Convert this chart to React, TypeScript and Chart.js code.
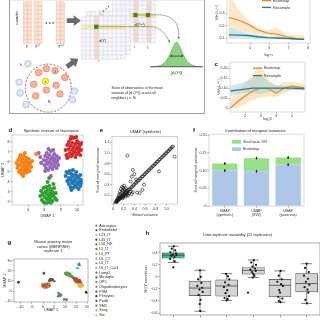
import React, { useEffect, useRef } from "react";
import { Chart, registerables } from "chart.js";

Chart.register(...registerables);

const FONT = "'Liberation Sans', Arial, sans-serif";
Chart.defaults.font.family = FONT;
Chart.defaults.color = "#333";

const ORANGE = "#dc8a2c";
const TEAL = "#2c7d83";

// ---------- a: schematic (page units) ----------
const nbrInside = [[35, 70], [43, 66], [52, 68], [30, 82], [62, 75], [53, 83], [32, 94], [43, 88], [57, 92]];
const nbrCentre = [[42, 79]];
const nbrOutside = [[24, 61], [15, 80], [16, 91], [22, 103], [72, 89], [70, 98]];
const bellX = [150, 156, 160, 164, 167, 170, 173, 175.5, 177, 178.5, 181, 184, 187, 190, 194, 198, 204];
const bellY = [64, 63.7, 62.8, 60.5, 57, 51.5, 44.5, 40, 38.5, 40, 44.5, 51.5, 57, 60.5, 62.8, 63.7, 64];

// ---------- b: variance vs log n ----------
const logN = [3.9, 4.4, 4.9, 5.4, 5.9, 6.4, 6.9, 7.4, 7.8];
const bBootMean = [0.265, 0.245, 0.21, 0.165, 0.14, 0.13, 0.11, 0.095, 0.09];
const bBootHigh = [0.45, 0.33, 0.24, 0.18, 0.165, 0.185, 0.125, 0.125, 0.12];
const bBootLow = [0.17, 0.16, 0.145, 0.13, 0.12, 0.11, 0.095, 0.085, 0.08];
const bResMean = [0.125, 0.123, 0.12, 0.11, 0.103, 0.1, 0.097, 0.092, 0.09];
const bResHigh = [0.18, 0.16, 0.14, 0.125, 0.115, 0.11, 0.103, 0.097, 0.095];
const bResLow = [0.095, 0.095, 0.093, 0.09, 0.09, 0.088, 0.087, 0.085, 0.085];
const bTicksX = [5, 6, 7, 8];
const bTicksY = [0.1, 0.2, 0.3];

// ---------- c: variance vs log beta ----------
const logBeta = [1.05, 1.5, 2, 2.5, 3, 3.5, 4, 4.5, 5, 5.5, 5.8];
const cBootMean = [0.0, 0.03, 0.06, 0.085, 0.1, 0.095, 0.075, 0.1, 0.11, 0.105, 0.1];
const cBootHigh = [0.04, 0.08, 0.12, 0.17, 0.215, 0.14, 0.11, 0.13, 0.13, 0.125, 0.12];
const cBootLow = [0.0, 0.0, 0.02, 0.04, 0.05, 0.06, 0.055, 0.075, 0.09, 0.09, 0.085];
const cResMean = [0.085, 0.09, 0.095, 0.1, 0.1, 0.1, 0.1, 0.1, 0.1, 0.098, 0.098];
const cResHigh = [0.11, 0.12, 0.13, 0.15, 0.17, 0.13, 0.115, 0.11, 0.11, 0.108, 0.105];
const cResLow = [0.06, 0.07, 0.075, 0.075, 0.07, 0.08, 0.085, 0.09, 0.09, 0.09, 0.09];
const cTicksX = [2, 3, 4, 5];
const cTicksY = [0, 0.05, 0.1, 0.15, 0.2];
const cTickLabelsY = ["0", "0.05", "0.10", "0.15", "0.20"];

// ---------- d: synthetic mixture of Gaussians ----------
const dOrange = [[2.6, 5.9], [2.7, 5.4], [2.8, 6.2], [2.9, 5.0], [3.0, 5.7], [3.0, 6.5], [3.1, 5.2], [3.2, 6.0], [3.2, 4.8], [3.3, 5.5], [3.3, 6.3], [3.4, 5.9], [3.5, 5.1], [3.5, 6.6], [3.6, 5.6], [3.6, 4.9], [3.7, 6.1], [3.7, 5.3], [3.8, 5.8], [3.8, 6.4], [3.9, 5.0], [3.9, 5.5], [4.0, 6.0], [4.0, 5.3], [4.1, 5.7], [4.1, 6.3], [4.2, 5.1], [4.3, 5.9], [4.4, 5.5], [3.4, 4.6], [2.8, 5.7], [3.1, 6.7], [4.5, 6.1], [3.6, 6.9], [5.0, 6.8]];
const dPurple = [[5.9, 6.2], [6.0, 5.7], [6.1, 6.6], [6.2, 5.4], [6.2, 6.1], [6.3, 6.9], [6.4, 5.8], [6.4, 6.4], [6.5, 5.2], [6.6, 6.0], [6.6, 6.7], [6.7, 5.5], [6.8, 6.3], [6.8, 7.1], [6.9, 5.8], [7.0, 6.5], [7.0, 5.3], [7.1, 6.1], [7.2, 6.8], [7.2, 5.6], [7.3, 6.3], [7.4, 5.9], [7.5, 6.6], [7.5, 5.4], [7.6, 6.1], [7.7, 5.7], [7.8, 6.4], [6.5, 7.3], [7.1, 7.2], [6.1, 5.1], [5.5, 6.5], [5.3, 6.9], [5.6, 5.9], [6.8, 4.6]];
const dRed = [[8.6, 7.2], [8.7, 6.7], [8.8, 7.7], [8.9, 6.5], [9.0, 7.3], [9.0, 8.0], [9.1, 6.9], [9.2, 7.6], [9.2, 8.3], [9.3, 6.6], [9.4, 7.2], [9.4, 7.9], [9.5, 6.8], [9.6, 7.5], [9.6, 8.4], [9.7, 7.0], [9.8, 7.8], [9.8, 6.5], [9.9, 7.3], [10.0, 8.1], [10.0, 6.8], [10.1, 7.5], [10.2, 7.0], [10.2, 7.9], [10.3, 7.3], [10.4, 7.7], [10.4, 6.7], [10.5, 7.2], [9.3, 8.6], [9.9, 8.5], [8.8, 6.4], [10.6, 7.9]];
const dBlue = [[8.6, 4.6], [8.8, 4.1], [8.9, 4.9], [9.0, 3.8], [9.0, 4.4], [9.1, 5.1], [9.2, 3.5], [9.2, 4.2], [9.3, 4.8], [9.4, 3.9], [9.4, 4.5], [9.5, 5.2], [9.5, 3.4], [9.6, 4.1], [9.7, 4.7], [9.7, 3.7], [9.8, 4.3], [9.9, 5.0], [9.9, 3.5], [10.0, 4.0], [10.0, 4.6], [10.1, 3.8], [10.2, 4.4], [10.2, 3.3], [10.3, 4.0], [10.4, 4.7], [10.4, 3.6], [10.5, 4.2], [9.3, 3.2], [8.7, 5.0], [10.6, 3.9]];
const dGreen = [[5.5, 2.6], [5.6, 3.1], [5.7, 2.2], [5.8, 2.8], [5.9, 3.4], [5.9, 2.0], [6.0, 2.5], [6.1, 3.0], [6.1, 1.9], [6.2, 3.5], [6.3, 2.3], [6.3, 2.8], [6.4, 3.2], [6.5, 2.0], [6.5, 2.6], [6.6, 3.6], [6.7, 2.3], [6.7, 2.9], [6.8, 1.9], [6.8, 3.3], [6.9, 2.6], [7.0, 3.0], [7.0, 2.1], [7.1, 2.7], [7.2, 3.4], [7.3, 2.4], [7.4, 2.9], [7.5, 2.2], [6.4, 4.0], [6.6, 4.4], [6.2, 1.8], [7.1, 3.8]];
const dTicksX = [4, 6, 8, 10];
const dTicksY = [2, 3, 4, 5, 6, 7, 8];

// ---------- e: global vs summed marginal variance ----------
const eDiagonal = [[0.30, 0.31], [0.32, 0.32], [0.34, 0.35], [0.36, 0.36], [0.38, 0.39], [0.40, 0.40], [0.42, 0.43], [0.44, 0.44], [0.46, 0.47], [0.48, 0.48], [0.50, 0.51], [0.52, 0.52], [0.54, 0.55], [0.56, 0.56], [0.58, 0.59], [0.60, 0.60], [0.62, 0.63], [0.64, 0.64], [0.66, 0.67], [0.68, 0.68], [0.70, 0.71], [0.72, 0.72], [0.74, 0.75], [0.76, 0.76], [0.78, 0.79], [0.80, 0.80], [0.82, 0.83], [0.84, 0.84], [0.86, 0.87], [0.88, 0.88], [0.90, 0.91], [0.92, 0.92], [0.94, 0.95], [0.96, 0.96], [0.98, 0.99], [1.00, 1.00], [1.02, 1.03], [1.04, 1.04], [1.06, 1.07], [1.08, 1.08], [1.10, 1.11], [1.12, 1.12]];
const eCluster = [[0.04, 0.05], [0.05, 0.06], [0.06, 0.07], [0.07, 0.07], [0.08, 0.09], [0.09, 0.10], [0.10, 0.11], [0.11, 0.12], [0.12, 0.14], [0.13, 0.13], [0.14, 0.16], [0.15, 0.15], [0.16, 0.18], [0.17, 0.17], [0.18, 0.20], [0.19, 0.19], [0.20, 0.22], [0.21, 0.21], [0.22, 0.24], [0.23, 0.23], [0.24, 0.26], [0.25, 0.25], [0.26, 0.28], [0.27, 0.27], [0.28, 0.30], [0.10, 0.15], [0.12, 0.18], [0.14, 0.22], [0.16, 0.25], [0.18, 0.28], [0.20, 0.31], [0.13, 0.27], [0.15, 0.32], [0.17, 0.36], [0.19, 0.34], [0.21, 0.38], [0.22, 0.30], [0.24, 0.33], [0.11, 0.21], [0.09, 0.14], [0.08, 0.12], [0.06, 0.09], [0.23, 0.18], [0.25, 0.20], [0.27, 0.22], [0.30, 0.24], [0.33, 0.27], [0.28, 0.19], [0.35, 0.22], [0.18, 0.14], [0.20, 0.16], [0.37, 0.26]];
const eOutliers = [[0.27, 0.95], [0.86, 0.65], [1.15, 0.93], [0.37, 0.68], [0.40, 0.60], [0.43, 0.50], [0.35, 0.55], [0.33, 0.46], [0.55, 0.30], [0.50, 0.24], [0.45, 0.25], [0.58, 0.40]];
const eTicksX = [0, 0.2, 0.4, 0.6, 0.8, 1.0];
const eTicksY = [0.2, 0.4, 0.6, 0.8, 1.0, 1.2];

// ---------- f: contribution of marginal variances ----------
const fCategories = [["UMAP", "(synthetic)"], ["UMAP", "(SVZ)"], ["UMAP", "(pancreas)"]];
const fBootstrap = [0.1, 0.098, 0.117];
const fStochastic = [0.02, 0.037, 0.02];
const fTicksY = [0, 0.05, 0.1, 0.15, 0.2];
const fTickLabelsY = ["0", "0.05", "0.10", "0.15", "0.20"];

// ---------- g: MERFISH UMAP ----------
const gNames = ["Astrocytes", "Endothelial", "L23_IT", "L45_IT", "L56_NP", "L5_IT", "L5_PT", "L6_CT", "L6_IT", "L6_IT_Car3", "Lamp5", "Microglia", "OPC", "Oligodendrocytes", "PVM", "Pericytes", "Pvalb", "SMC", "Sncg", "Sst"];
const gColors = ["#5f7f8a", "#7a3b2a", "#d8c03a", "#3b3b3b", "#8b5a3c", "#b5462e", "#d98c5a", "#dd8a3c", "#c0703a", "#5fc0d0", "#6d6d6d", "#2f6a2f", "#3c9c48", "#55a043", "#444444", "#333333", "#555555", "#8a5fa0", "#b8b040", "#bcd04a"];
const gPoints = [
  [[7, -2], [7.5, -3], [8, -3.5], [7.2, -4.5], [7.8, -5], [8.3, -4], [6.8, -5.3]],
  [[-11, 9], [-11.3, 8.5]],
  [[16, 6.5], [16.6, 5.8], [17.2, 5.2], [17.8, 4.6], [16.4, 4.4], [17, 3.8], [17.6, 6.4], [18.2, 5.6], [16.8, 6.8]],
  [],
  [[0.3, 5], [1.5, 4.3], [3, 5.2], [0.6, 6.3], [1.8, 6.6]],
  [[14, 12.5], [14.6, 12], [15.2, 11.6], [15.8, 11], [16.4, 10.3], [17, 9.6], [14.3, 11], [15, 10.4], [15.6, 9.6], [16.2, 8.8], [16.9, 8.2], [17.4, 7.5], [14.8, 12.8], [15.5, 12.2], [16.6, 11]],
  [],
  [[-0.5, 5], [0, 4], [0.5, 3.5], [1.2, 3.2], [2, 3.5], [2.6, 4.2], [0, 6], [0.8, 7], [1.5, 7.5], [2.2, 7.8], [3, 7.2], [-0.3, 7.2], [1, 5.5], [2.4, 5.6]],
  [[15.2, 8.8], [15.9, 8], [16.5, 7.2], [14.6, 9.6]],
  [[15.4, 23], [16, 22.6]],
  [[5.2, 9.8]],
  [[0.5, 18], [0.3, 17.5]],
  [[16.2, 26.5], [16.6, 25.8], [16.4, 27.2]],
  [[10, 18], [10.5, 17.2], [11, 17.8], [11.4, 16.6], [11.8, 17.3], [12.2, 16], [12.6, 15.6], [13, 15], [13.4, 14.4], [13.8, 14], [10.3, 16.4], [11.1, 15.8], [12, 15], [12.8, 14.2], [13.5, 13.3], [10.8, 18.4], [11.6, 18], [12.4, 17]],
  [],
  [[19.5, -1], [19.8, -1.6]],
  [[2.8, 10.5], [3.2, 11.5], [3.6, 12], [4.1, 11.8], [4.5, 11.2], [3.0, 10], [3.9, 10.8]],
  [[9.5, -8.5], [10.2, -8.3], [10.8, -8.8]],
  [],
  [[4.8, 10.2]],
];
const gTicksX = [-10, -5, 0, 5, 10, 15, 20];
const gTicksY = [-10, 0, 10, 20, 30];

// ---------- h: inter-replicate variability ----------
const hQ1 = [0.31, -0.31, -0.32, 0.045, -0.33, -0.25];
const hQ3 = [0.40, -0.07, -0.05, 0.165, -0.04, 0.055];
const hMedian = [0.36, -0.185, -0.15, 0.11, -0.14, -0.11];
const hWhiskLow = [0.24, -0.57, -0.39, -0.01, -0.42, -0.44];
const hWhiskHigh = [0.51, 0.11, 0.055, 0.28, 0.10, 0.22];
const hValues = [
  [0.51, 0.47, 0.44, 0.41, 0.39, 0.37, 0.36, 0.35, 0.33, 0.30, 0.26, 0.16],
  [0.11, 0.0, -0.04, -0.1, -0.15, -0.18, -0.21, -0.25, -0.3, -0.38, -0.45, -0.57],
  [0.05, 0.01, -0.04, -0.09, -0.13, -0.17, -0.22, -0.27, -0.32, -0.35, -0.37, -0.39],
  [0.28, 0.24, 0.2, 0.17, 0.14, 0.12, 0.1, 0.08, 0.05, 0.02, -0.01, -0.26],
  [0.1, 0.02, -0.04, -0.08, -0.12, -0.15, -0.22, -0.26, -0.33, -0.36, -0.4, -0.42],
  [0.22, 0.15, 0.08, 0.02, -0.03, -0.08, -0.13, -0.17, -0.21, -0.26, -0.38, -0.44],
];
const hJitter = [
  [0.02, -0.06, 0.07, -0.11, 0.1, -0.02, 0.12, -0.08, 0.04, -0.12, 0.05, 0.0],
  [0.0, 0.03, -0.07, 0.05, -0.1, 0.08, -0.02, 0.1, -0.05, 0.02, -0.01, 0.01],
  [-0.02, 0.05, 0.1, -0.06, 0.07, -0.1, 0.02, -0.04, 0.09, -0.08, 0.04, 0.0],
  [0.02, -0.08, 0.1, -0.03, 0.06, -0.11, 0.09, -0.05, 0.0, 0.04, -0.02, -0.2],
  [0.02, -0.05, 0.07, -0.1, 0.04, 0.11, -0.03, 0.0, -0.07, 0.09, -0.04, 0.02],
  [0.0, -0.06, 0.08, -0.1, 0.05, -0.03, 0.1, -0.08, 0.03, 0.06, -0.05, 0.01],
];
const hTicksY = [-0.6, -0.4, -0.2, 0, 0.2, 0.4];
const hTickLabelsY = ["−0.6", "−0.4", "−0.2", "0", "0.2", "0.4"];

// ---------- free text ----------
const panelLetters: [string, number, number][] = [["c", 216, 61], ["d", 4, 129], ["e", 98, 129], ["f", 194, 129], ["g", 3, 245], ["h", 145, 235]];
const panelTitles: [string, number, number][] = [
  ["Synthetic mixture of Gaussians", 48, 130],
  ["UMAP (synthetic)", 145, 131],
  ["Contribution of marginal variances", 258, 130],
  ["Mouse primary motor", 50, 244],
  ["cortex (MERFISH)", 50, 249],
  ["replicate 1", 50, 254],
  ["Inter-replicate variability (12 replicates)", 240, 237],
];
const sketchLabels: [string, number, number][] = [
  ["y", 23, 42.7], ["y⁽¹⁾", 34, 42.7], ["y⁽ᴮ⁾", 58, 42.7],
  ["d(Y)", 101, 37], ["d(Y⁽ᴮ⁾)", 139, 21], ["i", 97, 58], ["i", 134, 43.5], ["j", 147.5, 43.5],
  ["{dᵢⱼ(Yᵇ)}", 177, 70], ["i", 42, 79.3], ["j", 52, 68.3], ["Nᵢ", 46, 100], ["k", 17, 62],
];
const sketchNote = ["Score of observation i is the mean", "variance of {dᵢⱼ(Yᵇ)} across all", "neighbors j ∈ Nᵢ"];
const VAR_LABEL = "Vâr(dᵢⱼ⁽ᵇ⁾)";

// ---------- helpers ----------
const tf = (size: number, weight: string = "normal") => ({ size, family: FONT, weight });
const pts = (list: number[][]) => list.map(([x, y]) => ({ x, y }));
const zip = (xs: number[], ys: number[]) => xs.map((x, i) => ({ x, y: ys[i] }));

function axis(s: any): any {
  const horiz = s.pos === "bottom";
  return {
    type: "linear",
    position: s.pos,
    min: s.min,
    max: s.max,
    offset: false,
    stacked: !!s.stacked,
    afterFit: (sc: any) => {
      if (horiz) sc.height = s.size;
      else sc.width = s.size;
    },
    afterBuildTicks: (sc: any) => {
      sc.ticks = s.ticks.map((v: number) => ({ value: v }));
    },
    ticks: {
      font: tf(3.6),
      color: "#333",
      padding: s.pad ?? 1,
      autoSkip: false,
      maxRotation: 0,
      minRotation: 0,
      callback: (v: number, i: number) => (s.labels ? s.labels[i] : String(v)),
    },
    grid: { display: true, drawOnChartArea: false, drawTicks: true, tickLength: s.tickLen ?? 1.5, color: "#444", lineWidth: 0.5, offset: false },
    border: { display: false },
    title: { display: !!s.title, text: s.title ?? "", font: tf(3.8), color: "#333", padding: 0 },
  };
}

function base(scales: any, padding: any = { top: 3, right: 4, left: 0, bottom: 0 }) {
  return {
    responsive: false,
    maintainAspectRatio: false,
    animation: false,
    devicePixelRatio: 1,
    events: [],
    layout: { padding },
    plugins: { legend: { display: false }, tooltip: { enabled: false }, title: { display: false } },
    scales,
  };
}

function framePlugin(color: string, width = 0.7) {
  return {
    id: "frame",
    afterDraw(chart: any) {
      const { left, top, right, bottom } = chart.chartArea;
      const ctx = chart.ctx;
      ctx.save();
      ctx.strokeStyle = color;
      ctx.lineWidth = width;
      ctx.strokeRect(left, top, right - left, bottom - top);
      ctx.restore();
    },
  };
}

function keysPlugin(items: { label: string; color: string; kind: string }[], dx: number, dy: number, gap: number) {
  return {
    id: "keys",
    afterDraw(chart: any) {
      const ctx = chart.ctx;
      const { left, top } = chart.chartArea;
      ctx.save();
      ctx.font = `3.8px ${FONT}`;
      ctx.textBaseline = "middle";
      ctx.textAlign = "left";
      items.forEach((it, i) => {
        const x = left + dx;
        const y = top + dy + i * gap;
        if (it.kind === "line") {
          ctx.strokeStyle = it.color;
          ctx.lineWidth = 1.3;
          ctx.beginPath();
          ctx.moveTo(x, y);
          ctx.lineTo(x + 9, y);
          ctx.stroke();
        } else {
          ctx.fillStyle = it.color;
          ctx.fillRect(x, y - 1.8, 9, 3.6);
        }
        ctx.fillStyle = "#333";
        ctx.fillText(it.label, x + 11, y);
      });
      ctx.restore();
    },
  };
}

function bandDatasets(xs: number[], bm: number[], bh: number[], bl: number[], rm: number[], rh: number[], rl: number[]) {
  const none = "rgba(0,0,0,0)";
  return [
    { data: zip(xs, bh), fill: "+1", backgroundColor: "rgba(252,196,125,0.42)", borderColor: none, borderWidth: 0, pointRadius: 0, order: 3 },
    { data: zip(xs, bl), fill: false, borderColor: none, borderWidth: 0, pointRadius: 0, order: 3 },
    { data: zip(xs, rh), fill: "+1", backgroundColor: "rgba(135,200,218,0.42)", borderColor: none, borderWidth: 0, pointRadius: 0, order: 2 },
    { data: zip(xs, rl), fill: false, borderColor: none, borderWidth: 0, pointRadius: 0, order: 2 },
    { data: zip(xs, bm), fill: false, borderColor: ORANGE, borderWidth: 1.1, pointRadius: 0, order: 1 },
    { data: zip(xs, rm), fill: false, borderColor: TEAL, borderWidth: 1.4, pointRadius: 0, order: 0 },
  ];
}

const legendBR = [
  { label: "Bootstrap", color: ORANGE, kind: "line" },
  { label: "Resample", color: TEAL, kind: "line" },
];

// ---------- sketch drawing ----------
function drawGrid(ctx: any, X: any, Y: any, x0: number, y0: number, cols: number, rows: number, cw: number, ch: number, fill: string, line: string, hiCols: number[], hiRows: number[], colColor: string, rowColor: string) {
  const px = X(x0), py = Y(y0), w = cols * cw, h = rows * ch;
  ctx.fillStyle = fill;
  ctx.fillRect(px, py, w, h);
  hiCols.forEach((c) => { ctx.fillStyle = colColor; ctx.fillRect(px + c * cw, py, cw, h); });
  hiRows.forEach((r) => { ctx.fillStyle = rowColor; ctx.fillRect(px, py + r * ch, w, ch); });
  ctx.strokeStyle = line;
  ctx.lineWidth = 0.4;
  ctx.beginPath();
  for (let c = 0; c <= cols; c++) { ctx.moveTo(px + c * cw, py); ctx.lineTo(px + c * cw, py + h); }
  for (let r = 0; r <= rows; r++) { ctx.moveTo(px, py + r * ch); ctx.lineTo(px + w, py + r * ch); }
  ctx.stroke();
}

function blockArrow(ctx: any, x: number, y: number, angle: number) {
  ctx.save();
  ctx.translate(x, y);
  ctx.rotate(angle);
  ctx.fillStyle = "#6b6b6b";
  ctx.beginPath();
  ctx.moveTo(0, -2.4);
  ctx.lineTo(7, -2.4);
  ctx.lineTo(7, -5.4);
  ctx.lineTo(14, 0);
  ctx.lineTo(7, 5.4);
  ctx.lineTo(7, 2.4);
  ctx.lineTo(0, 2.4);
  ctx.closePath();
  ctx.fill();
  ctx.restore();
}

function arrowHead(ctx: any, x: number, y: number, angle: number, size = 2) {
  ctx.save();
  ctx.translate(x, y);
  ctx.rotate(angle);
  ctx.beginPath();
  ctx.moveTo(0, 0);
  ctx.lineTo(-size, -size * 0.55);
  ctx.lineTo(-size, size * 0.55);
  ctx.closePath();
  ctx.fill();
  ctx.restore();
}

const sketchPlugin = {
  id: "sketch",
  beforeDatasetsDraw(chart: any) {
    const ctx = chart.ctx;
    const X = (v: number) => chart.scales.x.getPixelForValue(v);
    const Y = (v: number) => chart.scales.y.getPixelForValue(v);
    ctx.save();
    // panel frame
    ctx.strokeStyle = "#8a8a8a";
    ctx.lineWidth = 0.8;
    ctx.strokeRect(X(5), Y(-5), X(206) - X(5), Y(112) - Y(-5));
    // sample columns
    [19.5, 30.5, 53.5].forEach((x) => drawGrid(ctx, X, Y, x, -3, 2, 10, 3.9, 4.2, "#fde4d6", "#eea888", [], [], "", ""));
    ctx.fillStyle = "#222";
    [43, 46.5, 50].forEach((x) => { ctx.beginPath(); ctx.arc(X(x), Y(19), 0.8, 0, Math.PI * 2); ctx.fill(); });
    // stacked distance matrices
    drawGrid(ctx, X, Y, 111, -4, 10, 10, 4.3, 4.2, "#f6f7fb", "#c9cde0", [5, 8], [3], "#fbd9c5", "#fbeaa8");
    drawGrid(ctx, X, Y, 84, 7, 10, 10, 4.4, 4.3, "#f6f7fb", "#c9cde0", [3], [], "#fbd9c5", "#fbeaa8");
    drawGrid(ctx, X, Y, 79, 12, 10, 10, 4.4, 4.3, "#f6f7fb", "#c9cde0", [3], [2], "#fbd9c5", "#fbeaa8");
    ctx.fillStyle = "#222";
    [[102, 6.5], [104.5, 4.3], [107, 2]].forEach(([x, y]) => { ctx.beginPath(); ctx.arc(X(x), Y(y), 0.6, 0, Math.PI * 2); ctx.fill(); });
    // highlighted entries and their rows
    ctx.strokeStyle = "#a89c3a";
    ctx.lineWidth = 0.9;
    ctx.beginPath();
    ctx.moveTo(X(97), Y(22.7)); ctx.lineTo(X(150), Y(22.7));
    ctx.moveTo(X(134.6), Y(10.7)); ctx.lineTo(X(153), Y(10.7));
    ctx.stroke();
    ctx.fillStyle = "#4f7d2a";
    ctx.fillRect(X(92.2), Y(20.6), 4.4, 4.3);
    ctx.fillRect(X(132.5), Y(8.6), 4.3, 4.2);
    ctx.fillRect(X(145.4), Y(8.6), 4.3, 4.2);
    // arrows into the matrices
    blockArrow(ctx, X(64), Y(16.5), 0);
    blockArrow(ctx, X(64), Y(64), -0.6);
    // neighbourhood
    ctx.strokeStyle = "#a33a3a";
    ctx.lineWidth = 0.8;
    ctx.setLineDash([2, 1.6]);
    ctx.beginPath();
    ctx.ellipse(X(45), Y(86), 23, 24, 0, 0, Math.PI * 2);
    ctx.stroke();
    ctx.setLineDash([]);
    ctx.restore();
  },
  afterDatasetsDraw(chart: any) {
    const ctx = chart.ctx;
    const X = (v: number) => chart.scales.x.getPixelForValue(v);
    const Y = (v: number) => chart.scales.y.getPixelForValue(v);
    ctx.save();
    // curves from distance entries to the distribution
    ctx.strokeStyle = "#555";
    ctx.fillStyle = "#555";
    ctx.lineWidth = 0.5;
    ctx.beginPath();
    ctx.moveTo(X(150), Y(22.7));
    ctx.bezierCurveTo(X(160), Y(23), X(166), Y(30), X(170), Y(39));
    ctx.stroke();
    arrowHead(ctx, X(170), Y(39), 1.15);
    ctx.beginPath();
    ctx.moveTo(X(153), Y(10.7));
    ctx.bezierCurveTo(X(172), Y(9), X(181), Y(18), X(179), Y(35.5));
    ctx.stroke();
    arrowHead(ctx, X(179), Y(35.5), 1.68);
    // baseline and spread arrow
    ctx.strokeStyle = "#222";
    ctx.fillStyle = "#222";
    ctx.lineWidth = 0.7;
    ctx.beginPath();
    ctx.moveTo(X(150), Y(64)); ctx.lineTo(X(204), Y(64));
    ctx.moveTo(X(171), Y(53)); ctx.lineTo(X(183.5), Y(53));
    ctx.stroke();
    arrowHead(ctx, X(170.5), Y(53), Math.PI, 1.8);
    arrowHead(ctx, X(184), Y(53), 0, 1.8);
    // labels
    ctx.fillStyle = "#222";
    ctx.textAlign = "center";
    ctx.textBaseline = "middle";
    ctx.font = `3.6px ${FONT}`;
    sketchLabels.forEach(([t, x, y]) => ctx.fillText(t, X(x), Y(y)));
    ctx.textAlign = "left";
    ctx.font = `3.4px ${FONT}`;
    sketchNote.forEach((t, i) => ctx.fillText(t, X(110), Y(86 + i * 5)));
    ctx.save();
    ctx.translate(X(12.5), Y(14));
    ctx.rotate(-Math.PI / 2);
    ctx.textAlign = "center";
    ctx.font = `3px ${FONT}`;
    ctx.fillText("n samples", 0, 0);
    ctx.restore();
    // panel letters and titles
    ctx.textAlign = "left";
    ctx.font = `bold 6px ${FONT}`;
    ctx.fillStyle = "#111";
    panelLetters.forEach(([t, x, y]) => ctx.fillText(t, X(x), Y(y)));
    ctx.textAlign = "center";
    ctx.font = `4px ${FONT}`;
    ctx.fillStyle = "#222";
    panelTitles.forEach(([t, x, y]) => ctx.fillText(t, X(x), Y(y)));
    // cell type key for g
    ctx.textAlign = "left";
    ctx.font = `3.6px ${FONT}`;
    gNames.forEach((name, i) => {
      const y = 227.5 + i * 4.85;
      ctx.fillStyle = gColors[i];
      ctx.beginPath();
      ctx.arc(X(94.5), Y(y), 1.1, 0, Math.PI * 2);
      ctx.fill();
      ctx.fillStyle = "#222";
      ctx.fillText(name, X(97.5), Y(y));
    });
    ctx.restore();
  },
};

// ---------- chart configs ----------
const sketchConfig = () => ({
  type: "scatter",
  data: {
    datasets: [
      { data: pts(nbrInside), pointRadius: 3.3, backgroundColor: "#f6b39a", borderColor: "#e07454", borderWidth: 0.6 },
      { data: pts(nbrCentre), pointRadius: 3.3, backgroundColor: "#fff03a", borderColor: "#c4ae00", borderWidth: 0.6 },
      { data: pts(nbrOutside), pointRadius: 3.3, backgroundColor: "#dbe8f6", borderColor: "#8cb2d8", borderWidth: 0.6 },
      { type: "line", data: zip(bellX, bellY), fill: { value: 64 }, backgroundColor: "#8fd082", borderColor: "#5aa850", borderWidth: 0.6, pointRadius: 0, cubicInterpolationMode: "monotone" },
    ],
  },
  options: base(
    {
      x: { type: "linear", min: 0, max: 320, display: false },
      y: { type: "linear", min: 0, max: 320, reverse: true, display: false },
    },
    { top: 0, right: 0, left: 0, bottom: 0 }
  ),
  plugins: [sketchPlugin],
});

const bConfig = () => ({
  type: "line",
  data: { datasets: bandDatasets(logN, bBootMean, bBootHigh, bBootLow, bResMean, bResHigh, bResLow) },
  options: base({
    x: axis({ pos: "bottom", min: 3.81, max: 8.1, ticks: bTicksX, size: 14, title: "log n" }),
    y: axis({ pos: "left", min: 0.06, max: 0.548, ticks: bTicksY, size: 12, title: VAR_LABEL }),
  }),
  plugins: [framePlugin("#cfcfcf"), keysPlugin(legendBR, 35, 18.5, 6.8)],
});

const cConfig = () => ({
  type: "line",
  data: { datasets: bandDatasets(logBeta, cBootMean, cBootHigh, cBootLow, cResMean, cResHigh, cResLow) },
  options: base({
    x: axis({ pos: "bottom", min: 1.04, max: 5.83, ticks: cTicksX, size: 9, title: "log β", tickLen: 1, pad: 0.5 }),
    y: axis({ pos: "left", min: -0.02, max: 0.23, ticks: cTicksY, labels: cTickLabelsY, size: 13, title: VAR_LABEL }),
  }),
  plugins: [framePlugin("#cfcfcf"), keysPlugin(legendBR, 23, 6, 7.5)],
});

const dot = (list: number[][], color: string, r = 1.7) => ({ data: pts(list), backgroundColor: color, borderColor: color, borderWidth: 0, pointRadius: r });

const dConfig = () => ({
  type: "scatter",
  data: {
    datasets: [dot(dOrange, "#ff7f0e", 2), dot(dPurple, "#9467bd", 2), dot(dRed, "#d62728", 2), dot(dBlue, "#1f77b4", 2), dot(dGreen, "#2ca02c", 2)],
  },
  options: base({
    x: axis({ pos: "bottom", min: 2.04, max: 10.73, ticks: dTicksX, size: 13, title: "UMAP 1" }),
    y: axis({ pos: "left", min: 1.7, max: 8.69, ticks: dTicksY, size: 11, title: "UMAP 2" }),
  }),
  plugins: [framePlugin("#bdbdbd")],
});

const ring = (list: number[][]) => ({ data: pts(list), backgroundColor: "rgba(0,0,0,0)", borderColor: "#111", borderWidth: 0.6, pointRadius: 1.5 });
const eFmt = (v: number) => (v === 0 ? "0" : v.toFixed(1));

const eConfig = () => ({
  type: "scatter",
  data: { datasets: [ring(eDiagonal), ring(eCluster), ring(eOutliers)] },
  options: base({
    x: axis({ pos: "bottom", min: -0.019, max: 1.204, ticks: eTicksX, labels: eTicksX.map(eFmt), size: 13, title: "Global variance" }),
    y: axis({ pos: "left", min: 0.033, max: 1.311, ticks: eTicksY, labels: eTicksY.map(eFmt), size: 16, title: "Sum of marginal variances" }),
  }),
  plugins: [framePlugin("#bdbdbd")],
});

const segmentDots = {
  id: "segmentDots",
  afterDatasetsDraw(chart: any) {
    const ctx = chart.ctx;
    ctx.save();
    ctx.fillStyle = "#111";
    ctx.strokeStyle = "#111";
    ctx.lineWidth = 0.6;
    [0, 1].forEach((d) =>
      chart.getDatasetMeta(d).data.forEach((el: any) => {
        ctx.beginPath();
        ctx.arc(el.x, el.y, 0.9, 0, Math.PI * 2);
        ctx.fill();
        ctx.beginPath();
        ctx.moveTo(el.x, el.y - 1.5);
        ctx.lineTo(el.x, el.y + 1.5);
        ctx.stroke();
      })
    );
    ctx.restore();
  },
};

const fConfig = () => ({
  type: "bar",
  data: {
    labels: fCategories,
    datasets: [
      { label: "Bootstrap", data: fBootstrap, backgroundColor: "#aec7e8", stack: "s", barPercentage: 0.8, categoryPercentage: 1 },
      { label: "Stochastic DR", data: fStochastic, backgroundColor: "#98df8a", stack: "s", barPercentage: 0.8, categoryPercentage: 1 },
    ],
  },
  options: base({
    x: {
      type: "category",
      stacked: true,
      offset: true,
      afterFit: (sc: any) => { sc.height = 16; },
      ticks: { font: tf(3.6), color: "#333", padding: 1, maxRotation: 0, minRotation: 0, autoSkip: false },
      grid: { display: true, drawOnChartArea: false, drawTicks: true, tickLength: 1.5, color: "#444", lineWidth: 0.5, offset: false },
      border: { display: false },
    },
    y: axis({ pos: "left", min: 0, max: 0.2028, ticks: fTicksY, labels: fTickLabelsY, size: 15, title: "Sum of marginal variances", stacked: true }),
  }),
  plugins: [
    framePlugin("#cfcfcf"),
    segmentDots,
    keysPlugin(
      [
        { label: "Stochastic DR", color: "#98df8a", kind: "patch" },
        { label: "Bootstrap", color: "#aec7e8", kind: "patch" },
      ],
      23,
      7.7,
      7.3
    ),
  ],
});

const gConfig = () => ({
  type: "scatter",
  data: { datasets: gNames.map((_, i) => dot(gPoints[i], gColors[i], 1.2)) },
  options: base({
    x: axis({ pos: "bottom", min: -13.18, max: 20.45, ticks: gTicksX, size: 10, title: "UMAP 1" }),
    y: axis({ pos: "left", min: -10.98, max: 31.95, ticks: gTicksY, size: 11, title: "UMAP 2" }),
  }),
  plugins: [framePlugin("#9a9a9a")],
});

const boxPlugin = {
  id: "boxParts",
  beforeDatasetsDraw(chart: any) {
    const ctx = chart.ctx;
    const y = chart.scales.y;
    const meta = chart.getDatasetMeta(0);
    ctx.save();
    ctx.strokeStyle = "#4a4a4a";
    ctx.lineWidth = 0.7;
    meta.data.forEach((bar: any, i: number) => {
      const x = bar.x;
      const hi = y.getPixelForValue(hWhiskHigh[i]);
      const lo = y.getPixelForValue(hWhiskLow[i]);
      ctx.beginPath();
      ctx.moveTo(x, hi); ctx.lineTo(x, y.getPixelForValue(hQ3[i]));
      ctx.moveTo(x, y.getPixelForValue(hQ1[i])); ctx.lineTo(x, lo);
      ctx.moveTo(x - 5.5, hi); ctx.lineTo(x + 5.5, hi);
      ctx.moveTo(x - 5.5, lo); ctx.lineTo(x + 5.5, lo);
      ctx.stroke();
    });
    ctx.restore();
  },
  afterDatasetDraw(chart: any, args: any) {
    if (args.index !== 0) return;
    const ctx = chart.ctx;
    const y = chart.scales.y;
    ctx.save();
    ctx.strokeStyle = "#4a4a4a";
    ctx.lineWidth = 0.8;
    chart.getDatasetMeta(0).data.forEach((bar: any, i: number) => {
      const m = y.getPixelForValue(hMedian[i]);
      ctx.beginPath();
      ctx.moveTo(bar.x - bar.width / 2, m);
      ctx.lineTo(bar.x + bar.width / 2, m);
      ctx.stroke();
    });
    ctx.restore();
  },
};

const hConfig = () => ({
  type: "bar",
  data: {
    datasets: [
      {
        type: "bar",
        data: hQ1.map((q, i) => ({ x: i, y: [q, hQ3[i]] })),
        backgroundColor: hQ1.map((_, i) => (i === 0 ? "#3fb7a0" : "#d3d3d3")),
        borderColor: "#4a4a4a",
        borderWidth: 0.7,
        borderSkipped: false,
        barThickness: 22,
        order: 1,
      },
      {
        type: "scatter",
        data: hValues.flatMap((vals, i) => vals.map((v, k) => ({ x: i + hJitter[i][k], y: v }))),
        backgroundColor: "#111",
        borderWidth: 0,
        pointRadius: 1.1,
        order: 0,
      },
    ],
  },
  options: base({
    x: axis({ pos: "bottom", min: -0.5, max: 5.5, ticks: [0, 1, 2, 3, 4, 5], labels: ["", "", "", "", "", ""], size: 8, tickLen: 2.5 }),
    y: axis({ pos: "left", min: -0.633, max: 0.564, ticks: hTicksY, labels: hTickLabelsY, size: 16, title: "MOY correlation" }),
  }),
  plugins: [framePlugin("#8a8a8a"), boxPlugin],
});

// ---------- components ----------
function Panel({ left, top, width, height, make }: { left: number; top: number; width: number; height: number; make: () => any }) {
  const ref = useRef<HTMLCanvasElement>(null);
  useEffect(() => {
    const chart = new Chart(ref.current as HTMLCanvasElement, make());
    return () => chart.destroy();
  }, []);
  return <canvas ref={ref} width={width} height={height} style={{ position: "absolute", left, top, width, height }} />;
}

export default function App() {
  return (
    <div style={{ position: "fixed", left: 0, top: 0, width: 320, height: 320, overflow: "hidden", background: "#fff" }}>
      <Panel left={0} top={0} width={320} height={320} make={sketchConfig} />
      <Panel left={215} top={-21} width={99} height={78} make={bConfig} />
      <Panel left={217} top={59} width={92} height={62} make={cConfig} />
      <Panel left={1} top={131} width={86} height={87} make={dConfig} />
      <Panel left={96} top={132} width={86} height={85} make={eConfig} />
      <Panel left={194} top={131} width={114} height={91} make={fConfig} />
      <Panel left={3} top={255} width={89} height={57} make={gConfig} />
      <Panel left={144} top={239} width={180} height={84} make={hConfig} />
    </div>
  );
}
